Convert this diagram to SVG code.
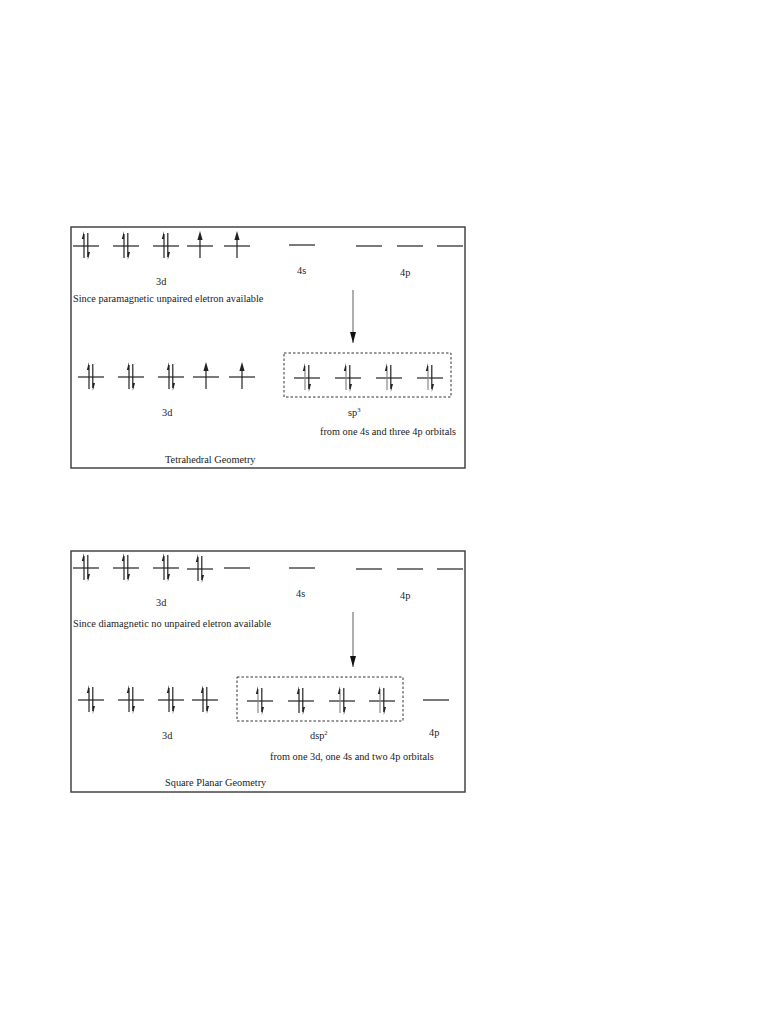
<svg xmlns="http://www.w3.org/2000/svg" xmlns:xlink="http://www.w3.org/1999/xlink" width="768" height="1024" viewBox="0 0 768 1024">
<style>
.frame{fill:none;stroke:#444;stroke-width:1.5}
.dash{fill:none;stroke:#333;stroke-width:1;stroke-dasharray:2.5 2}
.orb{stroke:#222;stroke-width:1.2}
.el{stroke:#222;stroke-width:1.2}
.elg{stroke:#888;stroke-width:1.2}
.t{font-family:"Liberation Serif","Times New Roman",serif;font-size:10.3px;fill:#222}
.conn{stroke:#777;stroke-width:1.2}
</style>
<defs>
<g id="empty"><line class="orb" x1="-13" y1="0" x2="13" y2="0"/></g>
<g id="pair">
<line class="orb" x1="-13" y1="0" x2="13" y2="0"/>
<line class="el" x1="-2" y1="-12" x2="-2" y2="12"/>
<polygon points="-2,-15 -4.2,-7 -2,-7" fill="#222"/>
<line class="el" x1="1.8" y1="-13" x2="1.8" y2="11"/>
<polygon points="1.8,14 4,6 1.8,6" fill="#222"/>
</g>
<g id="pairg">
<line class="orb" x1="-13" y1="0" x2="13" y2="0"/>
<line class="elg" x1="-2" y1="-12" x2="-2" y2="12"/>
<polygon points="-2,-15 -4.2,-7 -2,-7" fill="#222"/>
<line class="el" x1="1.8" y1="-13" x2="1.8" y2="11"/>
<polygon points="1.8,14 4,6 1.8,6" fill="#222"/>
</g>
<g id="up">
<line class="orb" x1="-13" y1="0" x2="13" y2="0"/>
<line class="el" x1="0" y1="-8" x2="0" y2="12"/>
<polygon points="0,-15 -2.6,-6 2.6,-6" fill="#222"/>
</g>
<marker id="ah" viewBox="0 0 11 6" refX="11" refY="3" markerWidth="11" markerHeight="6" markerUnits="userSpaceOnUse" orient="auto">
<path d="M0,0 L11,3 L0,6 Z" fill="#111"/>
</marker>
</defs>

<g id="tetrahedral-panel">
<rect class="frame" x="71" y="227" width="394" height="241"/>
<g id="t-3d-initial">
<use xlink:href="#pair" x="86" y="246"/>
<use xlink:href="#pair" x="126" y="246"/>
<use xlink:href="#pair" x="166" y="246"/>
<use xlink:href="#up" x="200" y="246"/>
<use xlink:href="#up" x="237" y="246"/>
<text class="t" x="156" y="285">3d</text>
</g>
<g id="t-4s-initial">
<use xlink:href="#empty" x="302" y="245"/>
<text class="t" x="297" y="274">4s</text>
</g>
<g id="t-4p-initial">
<use xlink:href="#empty" x="369" y="246"/>
<use xlink:href="#empty" x="410" y="246"/>
<use xlink:href="#empty" x="450" y="246"/>
<text class="t" x="400" y="276">4p</text>
</g>
<text class="t" x="73" y="302">Since paramagnetic unpaired eletron available</text>
<g id="t-3d-final">
<use xlink:href="#pair" x="91" y="377"/>
<use xlink:href="#pair" x="131" y="377"/>
<use xlink:href="#pair" x="171" y="377"/>
<use xlink:href="#up" x="206" y="377"/>
<use xlink:href="#up" x="242" y="377"/>
<text class="t" x="162" y="416">3d</text>
</g>
<g id="t-sp3">
<rect class="dash" x="284" y="353" width="167" height="44"/>
<use xlink:href="#pairg" x="307" y="378"/>
<use xlink:href="#pairg" x="348" y="378"/>
<use xlink:href="#pairg" x="389" y="378"/>
<use xlink:href="#pairg" x="430" y="378"/>
<text class="t" x="348" y="416">sp<tspan font-size="6.5" dy="-4">3</tspan></text>
<text class="t" x="320" y="435">from one 4s and three 4p orbitals</text>
</g>
<text class="t" x="165" y="463">Tetrahedral  Geometry</text>
</g>

<g id="square-planar-panel">
<rect class="frame" x="71" y="551" width="394" height="241"/>
<g id="s-3d-initial">
<use xlink:href="#pair" x="86" y="568"/>
<use xlink:href="#pair" x="126" y="568"/>
<use xlink:href="#pair" x="166" y="568"/>
<use xlink:href="#pair" x="200" y="569"/>
<use xlink:href="#empty" x="237" y="568"/>
<text class="t" x="156" y="606">3d</text>
</g>
<g id="s-4s-initial">
<use xlink:href="#empty" x="302" y="568"/>
<text class="t" x="296" y="597">4s</text>
</g>
<g id="s-4p-initial">
<use xlink:href="#empty" x="369" y="569"/>
<use xlink:href="#empty" x="410" y="569"/>
<use xlink:href="#empty" x="450" y="569"/>
<text class="t" x="400" y="599">4p</text>
</g>
<text class="t" x="73" y="627">Since diamagnetic no unpaired eletron available</text>
<g id="s-3d-final">
<use xlink:href="#pair" x="91" y="700"/>
<use xlink:href="#pair" x="131" y="700"/>
<use xlink:href="#pair" x="171" y="700"/>
<use xlink:href="#pair" x="205" y="700"/>
<text class="t" x="162" y="739">3d</text>
</g>
<g id="s-dsp2">
<rect class="dash" x="237" y="677" width="166" height="44"/>
<use xlink:href="#pairg" x="260" y="701"/>
<use xlink:href="#pair" x="301" y="701"/>
<use xlink:href="#pairg" x="342" y="701"/>
<use xlink:href="#pairg" x="382" y="701"/>
<text class="t" x="310" y="739">dsp<tspan font-size="6.5" dy="-4">2</tspan></text>
<text class="t" x="270" y="760">from one 3d, one 4s and two 4p orbitals</text>
</g>
<g id="s-4p-final">
<use xlink:href="#empty" x="436" y="700"/>
<text class="t" x="429" y="736">4p</text>
</g>
<text class="t" x="165" y="786">Square Planar Geometry</text>
</g>

<g id="connectors">
<line class="conn" x1="353" y1="290" x2="353" y2="343" marker-end="url(#ah)"/>
<line class="conn" x1="353" y1="612" x2="353" y2="667" marker-end="url(#ah)"/>
</g>
</svg>
